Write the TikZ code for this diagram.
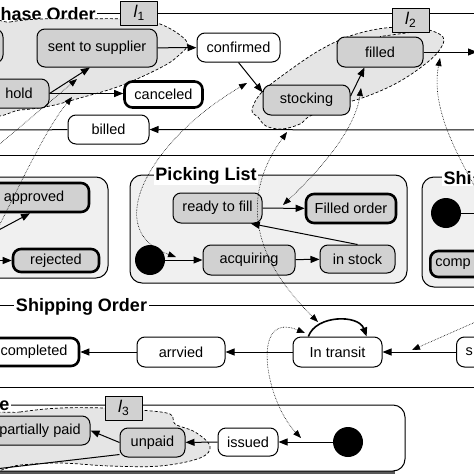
\documentclass[tikz,border=0pt]{standalone}
\usepackage{fontspec}
\setmainfont{Liberation Sans}
\usetikzlibrary{arrows.meta}

\newcommand{\statefont}{\fontsize{14.5}{16}\selectfont}
\newcommand{\titlefont}{\bfseries\fontsize{18}{20}\selectfont}
\newcommand{\tagtext}[1]{\fontsize{17}{18}\selectfont\textit{l}\raisebox{-3pt}{\fontsize{12}{13}\selectfont #1}}

\tikzset{
  synchead/.tip={Triangle[length=8pt,width=6pt]},
  state/.style={draw, rounded corners=8pt, fill=white, line width=1pt, inner sep=0pt, font=\statefont},
  gstate/.style={state, fill=black!18},
  final/.style={line width=2.6pt},
  init/.style={circle, fill=black, minimum size=30pt, inner sep=0pt},
  region/.style={draw, rounded corners=12pt, fill=black!6, line width=1pt},
  title/.style={fill=white, inner sep=1.5pt, font=\titlefont},
  tag/.style={draw, fill=black!18, minimum width=37pt, minimum height=24pt, inner sep=0pt, line width=0.8pt},
  blob/.style={draw, dash pattern=on 3pt off 2pt, fill=black!10, line width=0.7pt},
  trans/.style={line width=1pt},
  sync/.style={densely dotted, line width=0.6pt, -synchead},
  sync2/.style={densely dotted, line width=0.6pt, synchead-synchead},
}

\begin{document}
\begin{tikzpicture}[x=1pt, y=-1pt, >={Triangle[length=9pt,width=7pt]}, line join=round]
  \useasboundingbox (0,0) rectangle (474,474);
  \clip (0,0) rectangle (474,474);

  % regions
  \draw[trans] (-5,13) -- (480,13);
  \draw[trans] (-5,155) -- (480,155);
  \draw[region] (-20,177) rectangle (108,278);
  \draw[region] (130,175) rectangle (407,283);
  \draw[region] (422,177) rectangle (530,287);
  \draw[trans] (-5,305) -- (480,305);
  \draw[trans] (-5,387) -- (480,387);
  \draw[line width=4pt, black!65] (-5,472) -- (395,472);
  \draw[region, fill=white] (-20,405) rectangle (405,471);

  \node[title, anchor=base west] (potitle) at (-1,20) {hase Order};
  \node[title, anchor=base] (pltitle) at (206,180) {Picking List};
  \node[title, anchor=base west] (shtitle) at (442,184) {Shi};
  \node[title, anchor=base] (sotitle) at (81.5,311) {Shipping Order};
  \node[title, anchor=base east] (intitle) at (11,410) {e};

  % interaction blobs
  \draw[blob] plot[smooth cycle, tension=0.6] coordinates {(-10,28) (10,22) (40,19) (80,19) (122,19)
    (160,24) (187,42) (178,56) (160,68) (120,86) (80,98) (50,106) (20,110) (-10,110)};
  \draw[blob] plot[smooth cycle, tension=0.6] coordinates {(252,110) (262,92) (290,70) (320,50) (350,36)
    (385,28) (420,28) (443,37) (438,52) (420,68) (395,84) (365,97) (335,106) (310,116) (300,124)
    (282,129) (266,126) (258,117)};
  \draw[blob] plot[smooth cycle, tension=0.6] coordinates {(-10,418) (20,412) (60,408) (105,408) (140,410)
    (170,414) (175,424) (195,432) (210,446) (200,458) (160,466) (110,466) (60,463) (20,465) (-10,468)};

  % Purchase Order
  \draw[gstate] (-40,29) rectangle (3,63);
  \node[gstate, minimum width=120pt, minimum height=38pt] (sent) at (97,48) {sent to supplier};
  \node[gstate, minimum width=60pt, minimum height=29pt] (hold) at (19,93.5) {hold};
  \node[state, final, minimum width=78pt, minimum height=26pt] (canceled) at (163.5,94.5) {canceled};
  \node[state, minimum width=83pt, minimum height=29pt] (confirmed) at (238.5,47.5) {confirmed};
  \node[gstate, minimum width=87pt, minimum height=30pt] (stocking) at (306.5,100) {stocking};
  \node[gstate, minimum width=86pt, minimum height=30pt] (filled) at (380,52) {filled};
  \node[state, minimum width=81pt, minimum height=29pt] (billed) at (108.5,129.5) {billed};

  \node[tag] (l1) at (139,13) {\tagtext{1}};
  \node[tag] (l2) at (410.5,20) {\tagtext{2}};
  \draw[dash pattern=on 3pt off 2pt, line width=0.7pt] (l2.south) -- (filled.north);

  % left region
  \node[gstate, final, minimum width=110pt, minimum height=29pt] (approved) at (34,197.5) {approved};
  \node[gstate, final, minimum width=86pt, minimum height=23pt] (rejected) at (56,260.5) {rejected};

  % Picking List
  \node[init] (pickstart) at (150,260) {};
  \node[gstate, minimum width=89pt, minimum height=30pt] (ready) at (217.5,208) {ready to fill};
  \node[gstate, final, minimum width=90pt, minimum height=29pt] (filledorder) at (351,208.5) {Filled order};
  \node[gstate, minimum width=92pt, minimum height=30pt] (acquiring) at (249,260) {acquiring};
  \node[gstate, minimum width=75pt, minimum height=28pt] (instock) at (357.5,259) {in stock};

  % Shi...
  \node[init] (shipstart) at (446,213) {};
  \node[gstate, final, anchor=west, minimum width=100pt, minimum height=26pt, text width=90pt,
    inner xsep=3pt, align=left] (comp) at (429,264) {comp};

  % Shipping Order
  \node[state, final, minimum width=90pt, minimum height=28pt] (completed) at (34,352) {completed};
  \node[state, minimum width=88pt, minimum height=30pt] (arrvied) at (181,352) {arrvied};
  \node[state, minimum width=89pt, minimum height=30pt] (intransit) at (337.5,352) {In transit};
  \node[state, anchor=west, minimum width=90pt, minimum height=30pt, text width=72pt,
    inner xsep=9pt, align=left] (snode) at (456,352) {s};

  % bottom region
  \node[tag] (l3) at (123.5,408) {\tagtext{3}};
  \node[gstate, minimum width=100pt, minimum height=29pt] (partpaid) at (40,430.5) {partially paid};
  \node[gstate, minimum width=65pt, minimum height=29pt] (unpaid) at (152.5,442.5) {unpaid};
  \node[state, minimum width=60pt, minimum height=28pt] (issued) at (248,442) {issued};
  \node[init] (invstart) at (348,442) {};

  % free ends
  \coordinate (filledout) at (477,52);
  \coordinate (billedin) at (480,130);
  \coordinate (billedout) at (-5,130);
  \coordinate (approvedin) at (-5,232);
  \coordinate (rejectedin) at (-5,260.5);
  \coordinate (shipout) at (480,213);
  \coordinate (unpaidout) at (-5,469);

  % transitions
  \draw[->, trans] (sent) -- (confirmed);
  \draw[->, trans] (hold.east) -- (sent.250);
  \draw[->, trans] (hold.east) -- (hold.east -| canceled.west);
  \draw[->, trans] (confirmed.south) -- (stocking.170);
  \draw[->, trans] (stocking.5) -- (filled.225);
  \draw[->, trans] (filled) -- (filledout);
  \draw[->, trans] (billedin) -- (billed);
  \draw[trans] (billed) -- (billedout);
  \draw[->, trans] (approvedin) -- ([xshift=-4pt]approved.south);
  \draw[->, trans] (rejectedin) -- (rejected.west);
  \draw[->, trans] (pickstart) -- (acquiring);
  \draw[->, trans] (acquiring) -- (instock);
  \draw[->, trans] (instock.north) -- (ready.-25);
  \draw[->, trans] (ready) -- (filledorder);
  \draw[trans] (shipstart) -- (shipout);
  \draw[->, trans] (arrvied) -- (completed);
  \draw[->, trans] (intransit) -- (arrvied);
  \draw[->, trans] (snode.west) -- (intransit.east);
  \draw[->, line width=1.6pt] (intransit.152) .. controls +(8,-22) and +(-8,-22) .. (intransit.28);
  \draw[->, trans] (invstart) -- (issued);
  \draw[->, trans] (issued) -- (unpaid);
  \draw[->, trans] (unpaid.west) -- (partpaid.east);
  \draw[trans] (unpaid.200) -- (unpaidout);

  % synchronisation arrows
  \coordinate (syncf) at (-5,148);
  \coordinate (synce) at (-8,240);
  \coordinate (syncg) at (485,205);
  \coordinate (synci) at (480,320);
  \draw[sync] (syncf) -- (77,79);
  \draw[sync] (synce) .. controls (20,185) and (45,130) .. (72,97);
  \draw[sync2] (247,83) .. controls (150,140) and (100,230) .. (176,257);
  \draw[sync2] (287,132) .. controls (245,190) and (245,250) .. (318,322);
  \draw[sync2] (361,88) .. controls (355,130) and (320,170) .. (283,205);
  \draw[sync, synchead-] (440,58) .. controls (430,110) and (460,160) .. (syncg);
  \draw[sync2] (305,333) .. controls (250,310) and (265,400) .. (301,438);
  \draw[sync] (synci) -- (412,350);
\end{tikzpicture}
\end{document}
